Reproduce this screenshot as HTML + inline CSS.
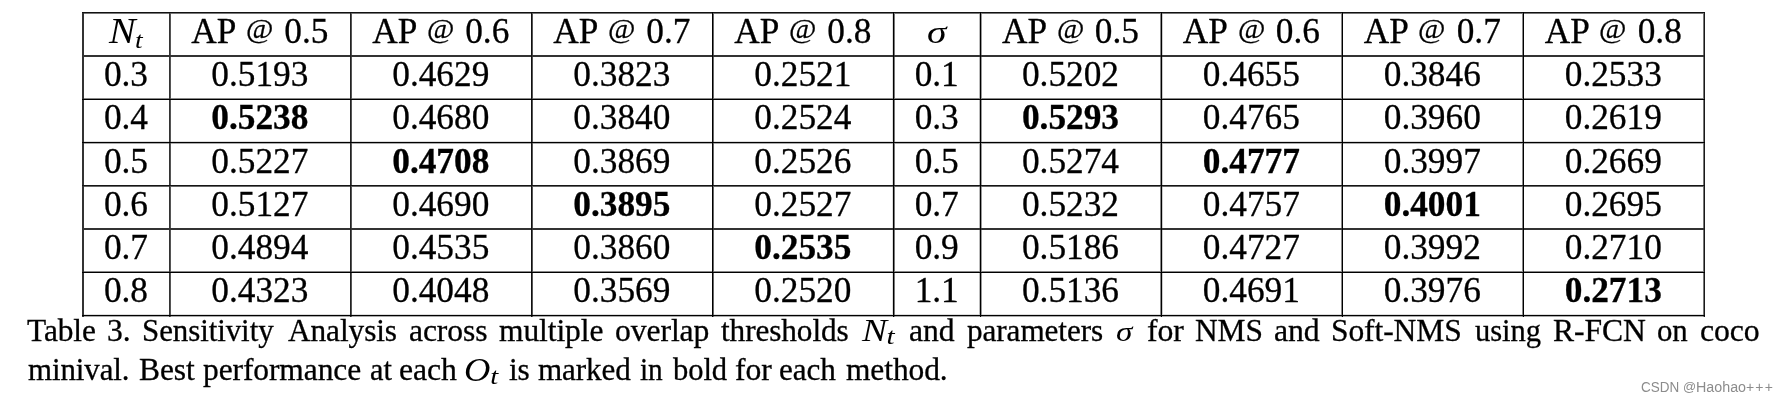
<!DOCTYPE html><html><head><meta charset="utf-8"><style>
html,body{margin:0;padding:0;background:#fff;}
body{width:1788px;height:402px;position:relative;overflow:hidden;font-family:"Liberation Serif",serif;color:#000;}
.h{position:absolute;height:1px;mix-blend-mode:darken;}
.v{position:absolute;width:1px;mix-blend-mode:darken;}
.c{position:absolute;text-align:center;white-space:nowrap;font-size:35.30px;line-height:35.30px;height:35.30px;}
.c,.cap{-webkit-text-stroke:0.30px #000;}
.mi{-webkit-text-stroke:0;}
b{font-weight:bold;}
.mi{display:inline-block;font-style:italic;transform-origin:0 80%;line-height:0;}
.sb{position:relative;line-height:0;}
.at{display:inline-block;font-size:0.780em;transform:translateY(-0.180em) scaleX(1.080);margin:0 0.112em;line-height:0;}
.cap{position:absolute;transform-origin:0 0;font-size:31.20px;line-height:31.20px;white-space:nowrap;letter-spacing:-0.080px;}
.wm{position:absolute;transform-origin:0 0;font-family:"Liberation Sans",sans-serif;font-size:14.00px;line-height:14.00px;color:#8c8c8c;white-space:nowrap;}
</style></head><body>
<div class="h" style="left:82px;top:12px;width:1623px;background:#111"></div>
<div class="h" style="left:82px;top:13px;width:1623px;background:#777"></div>
<div class="h" style="left:82px;top:55px;width:1623px;background:#333"></div>
<div class="h" style="left:82px;top:56px;width:1623px;background:#333"></div>
<div class="h" style="left:82px;top:98px;width:1623px;background:#888"></div>
<div class="h" style="left:82px;top:99px;width:1623px;background:#000"></div>
<div class="h" style="left:82px;top:141px;width:1623px;background:#ddd"></div>
<div class="h" style="left:82px;top:142px;width:1623px;background:#000"></div>
<div class="h" style="left:82px;top:143px;width:1623px;background:#aaa"></div>
<div class="h" style="left:82px;top:185px;width:1623px;background:#151515"></div>
<div class="h" style="left:82px;top:186px;width:1623px;background:#666"></div>
<div class="h" style="left:82px;top:228px;width:1623px;background:#333"></div>
<div class="h" style="left:82px;top:229px;width:1623px;background:#333"></div>
<div class="h" style="left:82px;top:271px;width:1623px;background:#888"></div>
<div class="h" style="left:82px;top:272px;width:1623px;background:#000"></div>
<div class="h" style="left:82px;top:314px;width:1623px;background:#ddd"></div>
<div class="h" style="left:82px;top:315px;width:1623px;background:#000"></div>
<div class="h" style="left:82px;top:316px;width:1623px;background:#aaa"></div>
<div class="v" style="left:82px;top:12px;height:305px;background:#333"></div>
<div class="v" style="left:83px;top:12px;height:305px;background:#333"></div>
<div class="v" style="left:169px;top:12px;height:305px;background:#333"></div>
<div class="v" style="left:170px;top:12px;height:305px;background:#555"></div>
<div class="v" style="left:350px;top:12px;height:305px;background:#222"></div>
<div class="v" style="left:351px;top:12px;height:305px;background:#555"></div>
<div class="v" style="left:531px;top:12px;height:305px;background:#111"></div>
<div class="v" style="left:532px;top:12px;height:305px;background:#555"></div>
<div class="v" style="left:712px;top:12px;height:305px;background:#000"></div>
<div class="v" style="left:713px;top:12px;height:305px;background:#666"></div>
<div class="v" style="left:892px;top:12px;height:305px;background:#ddd"></div>
<div class="v" style="left:893px;top:12px;height:305px;background:#000"></div>
<div class="v" style="left:894px;top:12px;height:305px;background:#777"></div>
<div class="v" style="left:979px;top:12px;height:305px;background:#bbb"></div>
<div class="v" style="left:980px;top:12px;height:305px;background:#000"></div>
<div class="v" style="left:981px;top:12px;height:305px;background:#999"></div>
<div class="v" style="left:1160px;top:12px;height:305px;background:#888"></div>
<div class="v" style="left:1161px;top:12px;height:305px;background:#000"></div>
<div class="v" style="left:1162px;top:12px;height:305px;background:#ccc"></div>
<div class="v" style="left:1341px;top:12px;height:305px;background:#888"></div>
<div class="v" style="left:1342px;top:12px;height:305px;background:#000"></div>
<div class="v" style="left:1522px;top:12px;height:305px;background:#888"></div>
<div class="v" style="left:1523px;top:12px;height:305px;background:#000"></div>
<div class="v" style="left:1703px;top:12px;height:305px;background:#777"></div>
<div class="v" style="left:1704px;top:12px;height:305px;background:#1a1a1a"></div>
<div class="c" style="left:82.50px;width:86.90px;top:14.24px"><span class="mi" style="transform:translateY(0.000em) scale(1.130,1.000);margin-right:0.087em">N</span><span class="sb" style="font-size:0.640em;top:0.219em;"><span class="mi" style="transform:scaleX(1.220);margin-right:0.061em">t</span></span></div>
<div class="c" style="left:169.40px;width:180.90px;top:14.24px">AP <span class="at">@</span> 0.5</div>
<div class="c" style="left:350.30px;width:181.00px;top:14.24px">AP <span class="at">@</span> 0.6</div>
<div class="c" style="left:531.30px;width:181.10px;top:14.24px">AP <span class="at">@</span> 0.7</div>
<div class="c" style="left:712.40px;width:181.00px;top:14.24px">AP <span class="at">@</span> 0.8</div>
<div class="c" style="left:893.40px;width:86.60px;top:14.24px"><span class="mi" style="transform:translateY(0.030em) scale(1.120,0.900);margin-right:0.059em">&sigma;</span></div>
<div class="c" style="left:980.00px;width:180.90px;top:14.24px">AP <span class="at">@</span> 0.5</div>
<div class="c" style="left:1160.90px;width:180.90px;top:14.24px">AP <span class="at">@</span> 0.6</div>
<div class="c" style="left:1341.80px;width:181.00px;top:14.24px">AP <span class="at">@</span> 0.7</div>
<div class="c" style="left:1522.80px;width:181.00px;top:14.24px">AP <span class="at">@</span> 0.8</div>
<div class="c" style="left:82.50px;width:86.90px;top:57.04px">0.3</div>
<div class="c" style="left:169.40px;width:180.90px;top:57.04px">0.5193</div>
<div class="c" style="left:350.30px;width:181.00px;top:57.04px">0.4629</div>
<div class="c" style="left:531.30px;width:181.10px;top:57.04px">0.3823</div>
<div class="c" style="left:712.40px;width:181.00px;top:57.04px">0.2521</div>
<div class="c" style="left:893.40px;width:86.60px;top:57.04px">0.1</div>
<div class="c" style="left:980.00px;width:180.90px;top:57.04px">0.5202</div>
<div class="c" style="left:1160.90px;width:180.90px;top:57.04px">0.4655</div>
<div class="c" style="left:1341.80px;width:181.00px;top:57.04px">0.3846</div>
<div class="c" style="left:1522.80px;width:181.00px;top:57.04px">0.2533</div>
<div class="c" style="left:82.50px;width:86.90px;top:100.04px">0.4</div>
<div class="c" style="left:169.40px;width:180.90px;top:100.04px"><b>0.5238</b></div>
<div class="c" style="left:350.30px;width:181.00px;top:100.04px">0.4680</div>
<div class="c" style="left:531.30px;width:181.10px;top:100.04px">0.3840</div>
<div class="c" style="left:712.40px;width:181.00px;top:100.04px">0.2524</div>
<div class="c" style="left:893.40px;width:86.60px;top:100.04px">0.3</div>
<div class="c" style="left:980.00px;width:180.90px;top:100.04px"><b>0.5293</b></div>
<div class="c" style="left:1160.90px;width:180.90px;top:100.04px">0.4765</div>
<div class="c" style="left:1341.80px;width:181.00px;top:100.04px">0.3960</div>
<div class="c" style="left:1522.80px;width:181.00px;top:100.04px">0.2619</div>
<div class="c" style="left:82.50px;width:86.90px;top:143.84px">0.5</div>
<div class="c" style="left:169.40px;width:180.90px;top:143.84px">0.5227</div>
<div class="c" style="left:350.30px;width:181.00px;top:143.84px"><b>0.4708</b></div>
<div class="c" style="left:531.30px;width:181.10px;top:143.84px">0.3869</div>
<div class="c" style="left:712.40px;width:181.00px;top:143.84px">0.2526</div>
<div class="c" style="left:893.40px;width:86.60px;top:143.84px">0.5</div>
<div class="c" style="left:980.00px;width:180.90px;top:143.84px">0.5274</div>
<div class="c" style="left:1160.90px;width:180.90px;top:143.84px"><b>0.4777</b></div>
<div class="c" style="left:1341.80px;width:181.00px;top:143.84px">0.3997</div>
<div class="c" style="left:1522.80px;width:181.00px;top:143.84px">0.2669</div>
<div class="c" style="left:82.50px;width:86.90px;top:186.94px">0.6</div>
<div class="c" style="left:169.40px;width:180.90px;top:186.94px">0.5127</div>
<div class="c" style="left:350.30px;width:181.00px;top:186.94px">0.4690</div>
<div class="c" style="left:531.30px;width:181.10px;top:186.94px"><b>0.3895</b></div>
<div class="c" style="left:712.40px;width:181.00px;top:186.94px">0.2527</div>
<div class="c" style="left:893.40px;width:86.60px;top:186.94px">0.7</div>
<div class="c" style="left:980.00px;width:180.90px;top:186.94px">0.5232</div>
<div class="c" style="left:1160.90px;width:180.90px;top:186.94px">0.4757</div>
<div class="c" style="left:1341.80px;width:181.00px;top:186.94px"><b>0.4001</b></div>
<div class="c" style="left:1522.80px;width:181.00px;top:186.94px">0.2695</div>
<div class="c" style="left:82.50px;width:86.90px;top:229.84px">0.7</div>
<div class="c" style="left:169.40px;width:180.90px;top:229.84px">0.4894</div>
<div class="c" style="left:350.30px;width:181.00px;top:229.84px">0.4535</div>
<div class="c" style="left:531.30px;width:181.10px;top:229.84px">0.3860</div>
<div class="c" style="left:712.40px;width:181.00px;top:229.84px"><b>0.2535</b></div>
<div class="c" style="left:893.40px;width:86.60px;top:229.84px">0.9</div>
<div class="c" style="left:980.00px;width:180.90px;top:229.84px">0.5186</div>
<div class="c" style="left:1160.90px;width:180.90px;top:229.84px">0.4727</div>
<div class="c" style="left:1341.80px;width:181.00px;top:229.84px">0.3992</div>
<div class="c" style="left:1522.80px;width:181.00px;top:229.84px">0.2710</div>
<div class="c" style="left:82.50px;width:86.90px;top:272.94px">0.8</div>
<div class="c" style="left:169.40px;width:180.90px;top:272.94px">0.4323</div>
<div class="c" style="left:350.30px;width:181.00px;top:272.94px">0.4048</div>
<div class="c" style="left:531.30px;width:181.10px;top:272.94px">0.3569</div>
<div class="c" style="left:712.40px;width:181.00px;top:272.94px">0.2520</div>
<div class="c" style="left:893.40px;width:86.60px;top:272.94px">1.1</div>
<div class="c" style="left:980.00px;width:180.90px;top:272.94px">0.5136</div>
<div class="c" style="left:1160.90px;width:180.90px;top:272.94px">0.4691</div>
<div class="c" style="left:1341.80px;width:181.00px;top:272.94px">0.3976</div>
<div class="c" style="left:1522.80px;width:181.00px;top:272.94px"><b>0.2713</b></div>
<div class="cap" style="left:27.35px;top:314.67px;transform:scaleX(1.0059)">Table</div>
<div class="cap" style="left:107.33px;top:314.67px;transform:scaleX(1.0123)">3.</div>
<div class="cap" style="left:142.46px;top:314.67px;transform:scaleX(0.9924)">Sensitivity</div>
<div class="cap" style="left:288.40px;top:314.67px;transform:scaleX(1.0042)">Analysis</div>
<div class="cap" style="left:408.99px;top:314.67px;transform:scaleX(1.0119)">across</div>
<div class="cap" style="left:499.30px;top:314.67px;transform:scaleX(1.0098)">multiple</div>
<div class="cap" style="left:615.19px;top:314.67px;transform:scaleX(1.0143)">overlap</div>
<div class="cap" style="left:721.10px;top:314.67px;transform:scaleX(1.0016)">thresholds</div>
<div class="cap" style="left:862.37px;top:314.67px;transform:scaleX(1.0656)"><span class="mi" style="transform:translateY(0.000em) scale(1.130,1.000);margin-right:0.087em">N</span><span class="sb" style="font-size:0.720em;top:0.167em;"><span class="mi" style="transform:scaleX(1.220);margin-right:0.061em">t</span></span></div>
<div class="cap" style="left:909.49px;top:314.67px;transform:scaleX(1.0149)">and</div>
<div class="cap" style="left:967.25px;top:314.67px;transform:scaleX(1.0007)">parameters</div>
<div class="cap" style="left:1115.85px;top:314.67px;transform:scaleX(0.9507)"><span class="mi" style="transform:translateY(0.030em) scale(1.120,0.900);margin-right:0.059em">&sigma;</span></div>
<div class="cap" style="left:1146.94px;top:314.67px;transform:scaleX(1.0169)">for</div>
<div class="cap" style="left:1194.74px;top:314.67px;transform:scaleX(1.0077)">NMS</div>
<div class="cap" style="left:1274.18px;top:314.67px;transform:scaleX(1.0171)">and</div>
<div class="cap" style="left:1331.33px;top:314.67px;transform:scaleX(1.0103)">Soft-NMS</div>
<div class="cap" style="left:1475.26px;top:314.67px;transform:scaleX(0.9798)">using</div>
<div class="cap" style="left:1552.74px;top:314.67px;transform:scaleX(1.0139)">R-FCN</div>
<div class="cap" style="left:1657.41px;top:314.67px;transform:scaleX(0.9882)">on</div>
<div class="cap" style="left:1699.88px;top:314.67px;transform:scaleX(1.0185)">coco</div>
<div class="cap" style="left:27.60px;top:354.47px;transform:scaleX(0.9905)">minival.</div>
<div class="cap" style="left:138.74px;top:354.47px;transform:scaleX(1.0092)">Best</div>
<div class="cap" style="left:202.65px;top:354.47px;transform:scaleX(1.0087)">performance</div>
<div class="cap" style="left:369.53px;top:354.47px;transform:scaleX(0.9721)">at</div>
<div class="cap" style="left:399.28px;top:354.47px;transform:scaleX(1.0152)">each</div>
<div class="cap" style="left:464.27px;top:354.47px;transform:scaleX(1.0464)"><span class="mi" style="transform:translateY(0.000em) scale(1.120,1.080);margin-right:0.087em">O</span><span class="sb" style="font-size:0.720em;top:0.167em;"><span class="mi" style="transform:scaleX(1.220);margin-right:0.061em">t</span></span></div>
<div class="cap" style="left:509.20px;top:354.47px;transform:scaleX(1.0026)">is</div>
<div class="cap" style="left:538.00px;top:354.47px;transform:scaleX(0.9968)">marked</div>
<div class="cap" style="left:640.03px;top:354.47px;transform:scaleX(0.9404)">in</div>
<div class="cap" style="left:672.54px;top:354.47px;transform:scaleX(0.9792)">bold</div>
<div class="cap" style="left:735.34px;top:354.47px;transform:scaleX(1.0141)">for</div>
<div class="cap" style="left:779.20px;top:354.47px;transform:scaleX(0.9991)">each</div>
<div class="cap" style="left:845.50px;top:354.47px;transform:scaleX(1.0081)">method.</div>
<div class="wm" style="left:1640.78px;top:379.75px;transform:scaleX(0.963);letter-spacing:0.00px;font-size:14px">CSDN</div>
<div class="wm" style="left:1683.37px;top:380.36px;transform:scaleX(1.080);letter-spacing:0.00px;font-size:12px">@</div>
<div class="wm" style="left:1695.98px;top:379.75px;transform:scaleX(1.020);letter-spacing:0.00px;font-size:14px">Haohao</div>
<div class="wm" style="left:1745.90px;top:379.75px;transform:scaleX(1.000);letter-spacing:1.20px;font-size:14px">+++</div>
</body></html>
